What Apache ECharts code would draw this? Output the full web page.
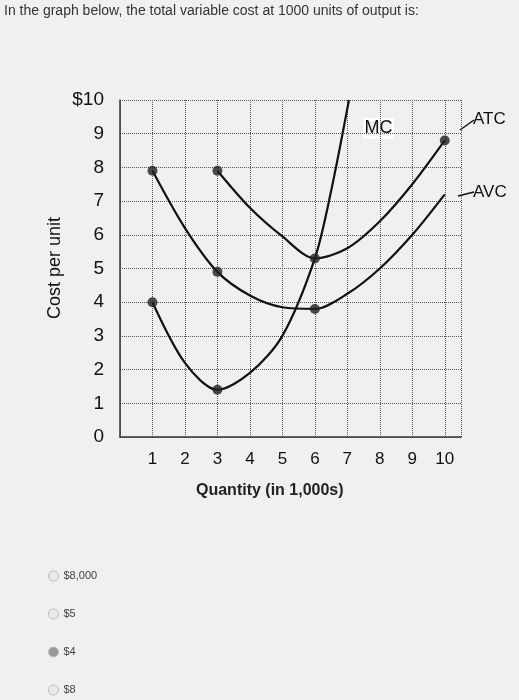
<!DOCTYPE html><html><head><meta charset="utf-8">
<script src="https://cdn.jsdelivr.net/npm/echarts@6/dist/echarts.min.js"></script>
<style>body{margin:0;background:#e8ece9;font-family:Lato,"Open Sans",sans-serif}#c{width:519px;height:700px}</style>
</head><body><div id="c"></div><script>
const yTicks=['0','1','2','3','4','5','6','7','8','9','$10'];
const xTicks=['1','2','3','4','5','6','7','8','9','10'];
const mc=[[1,4],[2,2.2],[3,1.4],[4,1.9],[5,3.0],[6,5.3],[6.5,7.3],[7.05,10]];
const avc=[[1,7.9],[2,6.2],[3,4.9],[4,4.2],[5,3.85],[6,3.8],[7,4.25],[8,5.0],[9,6.0],[10,7.2]];
const atc=[[3,7.9],[4,6.8],[5,5.95],[6,5.3],[7,5.6],[8,6.4],[9,7.5],[10,8.8]];
const dots=[[1,4],[3,1.4],[1,7.9],[3,4.9],[6,3.8],[3,7.9],[6,5.3],[10,8.8]];
const options=['$8,000','$5','$4','$8'];
const ch=echarts.init(document.getElementById('c'));
const line=d=>({type:'line',data:d,smooth:0.3,showSymbol:false,lineStyle:{color:'#111',width:2.2},z:3});
ch.setOption({
 backgroundColor:'#eef1ef',
 grid:{left:120,right:58,top:100,bottom:263},
 xAxis:{type:'value',min:0,max:10.5,interval:1,
  axisLine:{lineStyle:{color:'#333',width:1.5}},axisTick:{show:false},
  axisLabel:{fontSize:17,color:'#111',margin:14,formatter:v=>(v>=1&&v<=10)?xTicks[v-1]:''},
  splitLine:{show:true,lineStyle:{color:'#555',type:'dotted'}}},
 yAxis:{type:'value',min:0,max:10,interval:1,
  axisLine:{show:true,lineStyle:{color:'#333',width:1.5}},axisTick:{show:false},
  axisLabel:{fontSize:19,color:'#111',margin:16,formatter:v=>yTicks[v]},
  splitLine:{show:true,lineStyle:{color:'#555',type:'dotted'}}},
 series:[line(mc),line(avc),line(atc),
  {type:'scatter',data:dots,symbolSize:10,itemStyle:{color:'#222'},z:4}],
 graphic:[
  {type:'text',left:4,top:4,style:{text:'In the graph below, the total variable cost at 1000 units of output is:',fontSize:14,fill:'#333'}},
  {type:'text',x:55,y:268,rotation:Math.PI/2,style:{text:'Cost per unit',fontSize:18,fill:'#111',align:'center',verticalAlign:'middle'}},
  {type:'text',left:196,top:483,style:{text:'Quantity (in 1,000s)',fontSize:16,fontWeight:'bold',fill:'#222'}},
  {type:'text',left:363,top:118,style:{text:'MC',fontSize:18,fill:'#111',textBorderColor:'#fff',textBorderWidth:3}},
  {type:'text',left:473,top:111,style:{text:'ATC',fontSize:17,fill:'#111'}},
  {type:'text',left:473,top:184,style:{text:'AVC',fontSize:17,fill:'#111'}},
  {type:'line',shape:{x1:460,y1:130,x2:474,y2:120},style:{stroke:'#111',lineWidth:1.5}},
  {type:'line',shape:{x1:458,y1:196,x2:474,y2:192},style:{stroke:'#111',lineWidth:1.5}},
  ...options.map((o,i)=>({type:'group',left:48,top:570+i*38,children:[
   {type:'circle',shape:{cx:6,cy:6,r:5},style:{fill:i==2?'#999':'#e8ece9',stroke:'#bbb'}},
   {type:'text',x:16,y:0,style:{text:o,fontSize:11,fill:'#444'}}]}))
 ]
});
</script></body></html>
